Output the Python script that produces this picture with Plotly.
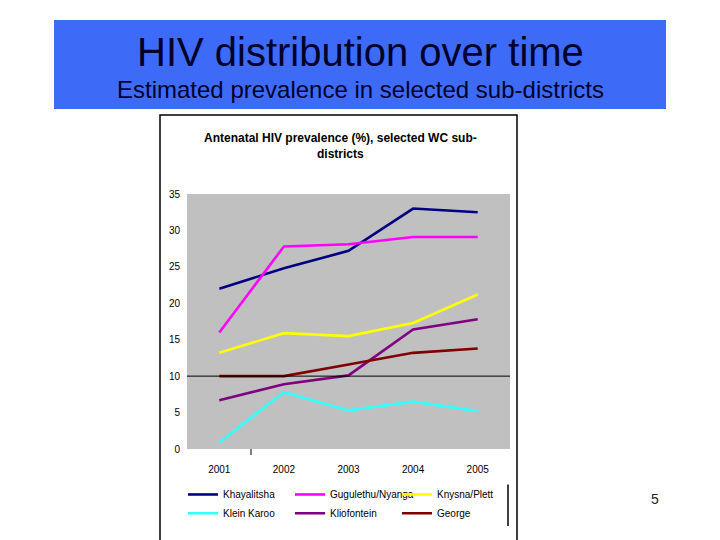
import plotly.graph_objects as go

years = ["2001", "2002", "2003", "2004", "2005"]
khayalitsha = [22.0, 24.8, 27.2, 33.0, 32.5]
gugulethu = [16.0, 27.8, 28.1, 29.1, 29.1]
knysna = [13.2, 15.9, 15.5, 17.3, 21.2]
klein_karoo = [0.9, 7.8, 5.3, 6.5, 5.2]
kliofontein = [6.7, 8.9, 10.1, 16.4, 17.8]
george = [10.0, 10.0, 11.6, 13.2, 13.8]

series = [
    ("Khayalitsha", khayalitsha, "#000080", "legend"),
    ("Gugulethu/Nyanga", gugulethu, "#FF00FF", "legend"),
    ("Knysna/Plett", knysna, "#FFFF00", "legend"),
    ("Klein Karoo", klein_karoo, "#33FFFF", "legend2"),
    ("Kliofontein", kliofontein, "#800080", "legend2"),
    ("George", george, "#800000", "legend2"),
]

# plot area in pixels
L, R, T, B = 187, 510, 194, 452
W, H = 720, 540


def px(x):
    return (x - L) / (R - L)


def py(y):
    return (B - y) / (B - T)


fig = go.Figure()
for name, vals, color, lg in series:
    fig.add_trace(go.Scatter(
        x=years, y=vals, name=name, mode="lines",
        line=dict(color=color, width=2.6),
        legend=lg,
    ))

font_fam = "Liberation Sans, Arial, sans-serif"

shapes = [
    # banner
    dict(type="rect", xref="paper", yref="paper", x0=px(54), x1=px(666), y0=py(108), y1=py(18),
         fillcolor="#3D6BF8", line=dict(width=0), layer="below"),
    # inner chart frame
    dict(type="rect", xref="paper", yref="paper", x0=px(160), x1=px(517), y0=py(560), y1=py(114),
         fillcolor="rgba(0,0,0,0)", line=dict(color="black", width=1.5)),
    # extra vertical line
    dict(type="line", xref="paper", yref="paper", x0=px(508), x1=px(508), y0=py(530), y1=py(488),
         line=dict(color="black", width=1.5)),
    # small tick below plot
    dict(type="line", xref="paper", yref="paper", x0=px(251), x1=px(251), y0=py(452), y1=py(458),
         line=dict(color="black", width=1)),
    # reference line at 10
    dict(type="line", xref="paper", yref="y", x0=0, x1=1, y0=10, y1=10,
         line=dict(color="black", width=1)),
]

annotations = [
    dict(text="HIV distribution over time", x=px(360), y=py(50), xref="paper", yref="paper",
         showarrow=False, xanchor="center", yanchor="middle",
         font=dict(family=font_fam, size=40, color="#00002A")),
    dict(text="Estimated prevalence in selected sub-districts", x=px(360), y=py(88), xref="paper",
         yref="paper", showarrow=False, xanchor="center", yanchor="middle",
         font=dict(family=font_fam, size=24, color="#00002A")),
    dict(text="<b>Antenatal HIV prevalence (%), selected WC sub-<br>districts</b>", x=px(340), y=py(145),
         xref="paper", yref="paper", showarrow=False, xanchor="center", yanchor="middle",
         font=dict(family=font_fam, size=12, color="black")),
    dict(text="5", x=px(655), y=py(503), xref="paper", yref="paper", showarrow=False,
         xanchor="center", yanchor="middle", font=dict(family=font_fam, size=14, color="#222222")),
]

fig.update_layout(
    width=W, height=H,
    margin=dict(l=L, r=W - R, t=T, b=H - B),
    paper_bgcolor="white",
    plot_bgcolor="#C0C0C0",
    shapes=shapes,
    annotations=annotations,
    font=dict(family=font_fam, size=10, color="black"),
    xaxis=dict(type="category", range=[-0.5, 4.5], showgrid=False, zeroline=False, showline=False,
               ticks="", ticklabelstandoff=13, tickfont=dict(size=10)),
    yaxis=dict(range=[0, 35], dtick=5, showgrid=False, zeroline=False, showline=False,
               ticks="", ticklabelstandoff=6, tickfont=dict(size=10)),
    legend=dict(orientation="h", x=px(183), y=py(498), xanchor="left", yanchor="middle",
                entrywidth=62, font=dict(size=10), bgcolor="rgba(0,0,0,0)",
                itemwidth=30, tracegroupgap=0),
    legend2=dict(orientation="h", x=px(183), y=py(517), xanchor="left", yanchor="middle",
                 entrywidth=62, font=dict(size=10), bgcolor="rgba(0,0,0,0)",
                 itemwidth=30, tracegroupgap=0),
    showlegend=True,
)

fig.write_html("out.html")
